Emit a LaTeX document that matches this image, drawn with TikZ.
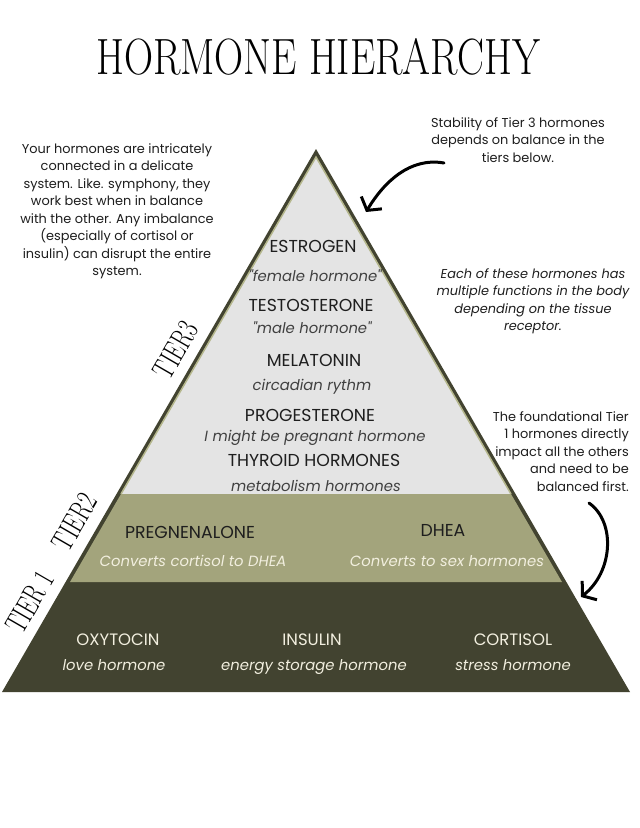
\documentclass[tikz,border=0pt]{standalone}
\usepackage{fontspec}
\newfontfamily\pop{Poppins}
\usetikzlibrary{arrows.meta}

\definecolor{olivedark}{HTML}{424330}
\definecolor{olivemid}{HTML}{A3A47C}
\definecolor{olivelight}{HTML}{B4B68C}
\definecolor{greyfill}{HTML}{E4E4E4}
\definecolor{cream}{HTML}{F2EFDF}
\definecolor{ink}{HTML}{1E1E1E}

\begin{document}
\begin{tikzpicture}[x=1pt, y=-1pt,
		note/.style={font=\pop\fontsize{12.9}{17.5}\selectfont, align=center, text=ink, inner sep=0},
		hname/.style={font=\pop\fontsize{17.3}{18}\selectfont, text=ink, inner sep=0, anchor=base},
		hrole/.style={font=\pop\itshape\fontsize{14.8}{16}\selectfont, text=ink!85, inner sep=0, anchor=base},
		tier/.style={font=\fontsize{31}{31}\selectfont, rotate=60, inner sep=0},
		curvearrow/.style={line width=3pt, line cap=round, -{Straight Barb[length=9pt, width=24pt]}}]
				\useasboundingbox[fill=white] (0,0) rectangle (640,828);

				% ピラミッド
				\fill[olivedark] (316,149) -- (2,692) -- (630,692) -- cycle;
				\fill[greyfill] (316,157) -- (121,494) -- (511,494) -- cycle;
				\draw[olivelight, line width=1.5pt] (121,494) -- (316,157) -- (511,494);
				\fill[olivemid] (121,494) -- (511,494) -- (562,582) -- (70,582) -- cycle;

				% タイトル
				\node (T) at (318,57) {\fontsize{51}{51}\selectfont\scalebox{0.79}[1]{HORMONE HIERARCHY}};

				% 段の名前
				\node[tier] (T3) at (176,350) {\scalebox{0.7}[1]{TIER3}};
				\node[tier] (T2) at (75,522) {\scalebox{0.7}[1]{TIER2}};
				\node[tier] (T1) at (30,602) {\scalebox{0.7}[1]{TIER 1}};

				% 説明
				\node[note, anchor=north] (L) at (117,143) {Your hormones are intricately\\connected in a delicate\\system. Like. symphony, they\\work best when in balance\\with the other. Any imbalance\\(especially of cortisol or\\insulin) can disrupt the entire\\system.};
				\node[note, anchor=north] (R1) at (518,117) {Stability of Tier 3 hormones\\depends on balance in the\\tiers below.};
				\node[note, anchor=north, font=\pop\itshape\fontsize{12.9}{17.5}\selectfont] (R2) at (533,268) {Each of these hormones has\\multiple functions in the body\\depending on the tissue\\receptor.};
				\node[note, anchor=north east, align=right] (R3) at (629,411) {The foundational Tier\\1 hormones directly\\impact all the others\\and need to be\\balanced first.};

				% 矢印
				\coordinate (a1) at (444,163);
				\coordinate (a2) at (366,212);
				\coordinate (b1) at (589,503);
				\coordinate (b2) at (581,597);
				\draw[curvearrow] (a1) .. controls (410,157) and (384,182) .. (a2);
				\draw[curvearrow] (b1) .. controls (616,522) and (613,572) .. (b2);

				% 値を入れる
				\node[hname] (E) at (313,252) {ESTROGEN};
				\node[hrole] (e) at (315,281) {"female hormone"};
				\node[hname] (Te) at (311,311) {TESTOSTERONE};
				\node[hrole] (te) at (312,333) {"male hormone"};
				\node[hname] (M) at (314,366) {MELATONIN};
				\node[hrole] (m) at (312,390) {circadian rythm};
				\node[hname] (P) at (310,421) {PROGESTERONE};
				\node[hrole] (p) at (315,441) {I might be pregnant hormone};
				\node[hname] (Th) at (314,466) {THYROID HORMONES};
				\node[hrole] (th) at (316,491) {metabolism hormones};

				\node[hname] (Pr) at (190,538) {PREGNENALONE};
				\node[hrole, text=cream] (pr) at (193,566) {Converts cortisol to DHEA};
				\node[hname] (D) at (443,536) {DHEA};
				\node[hrole, text=cream] (d) at (447,566) {Converts to sex hormones};

				\node[hname, text=cream, font=\pop\fontsize{16.5}{18}\selectfont] (O) at (118,645) {OXYTOCIN};
				\node[hrole, text=cream] (o) at (114,670) {love hormone};
				\node[hname, text=cream, font=\pop\fontsize{16.5}{18}\selectfont] (I) at (312,645) {INSULIN};
				\node[hrole, text=cream] (i) at (314,670) {energy storage hormone};
				\node[hname, text=cream, font=\pop\fontsize{16.5}{18}\selectfont] (C) at (513,645) {CORTISOL};
				\node[hrole, text=cream] (c) at (513,670) {stress hormone};

			\end{tikzpicture}
\end{document}
